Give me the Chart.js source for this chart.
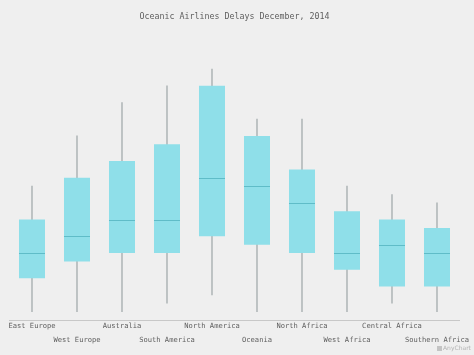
<!DOCTYPE html>
<html><head><meta charset="utf-8">
<script src="https://cdn.jsdelivr.net/npm/chart.js@4"></script>
<style>
html,body{margin:0;padding:0;background:#efefef;}
#wrap{position:relative;width:474px;height:355px;overflow:hidden;}
canvas{display:block;}
#credit{position:absolute;left:437px;top:344px;font:6px "DejaVu Sans",sans-serif;color:#b3b3b3;white-space:nowrap;}
#credit span.logo{display:inline-block;width:5px;height:5px;background:#c4c4c4;margin-right:1px;vertical-align:-0.5px;}
</style>
</head><body>
<div id="wrap"><canvas id="c" width="474" height="355"></canvas><div id="credit"><span class="logo"></span>AnyChart</div></div>
<script>
const categories = ["East Europe","West Europe","Australia","South America","North America","Oceania","North Africa","West Africa","Central Africa","Southern Africa"];
const lowValues    = [1, 1, 1, 2, 3, 1, 1, 1, 2, 1];
const q1Values     = [5, 7, 8, 8, 10, 9, 8, 6, 4, 4];
const medianValues = [8, 10, 12, 12, 17, 16, 14, 8, 9, 8];
const q3Values     = [12, 17, 19, 21, 28, 22, 18, 13, 12, 11];
const highValues   = [16, 22, 26, 28, 30, 24, 24, 16, 15, 14];

const boxData = categories.map((c, i) => [q1Values[i], q3Values[i]]);
const whiskerData = categories.map((c, i) => [lowValues[i], highValues[i]]);

const medianPlugin = {
  id: 'medianLines',
  afterDatasetsDraw(chart) {
    const meta = chart.getDatasetMeta(0);
    const ys = chart.scales.y;
    const ctx = chart.ctx;
    ctx.save();
    ctx.strokeStyle = '#5fbcc8';
    ctx.lineWidth = 1;
    meta.data.forEach((el, i) => {
      const py = Math.round(ys.getPixelForValue(medianValues[i])) + 0.5;
      ctx.beginPath();
      ctx.moveTo(el.x - el.width / 2, py);
      ctx.lineTo(el.x + el.width / 2, py);
      ctx.stroke();
    });
    ctx.restore();
  }
};

new Chart(document.getElementById('c'), {
  type: 'bar',
  data: {
    labels: categories,
    datasets: [
      { label: 'box', data: boxData, backgroundColor: '#8fdfe9', borderWidth: 0,
        barPercentage: 0.578, categoryPercentage: 1, grouped: false, order: 1 },
      { label: 'whisker', data: whiskerData, backgroundColor: '#b3b9ba', borderWidth: 0,
        barThickness: 1, categoryPercentage: 1, grouped: false, order: 2 }
    ]
  },
  options: {
    responsive: false,
    devicePixelRatio: 1,
    animation: false,
    layout: { padding: { left: 9.5, right: 14.5, top: 0, bottom: 9 } },
    plugins: {
      legend: { display: false },
      tooltip: { enabled: false },
      title: {
        display: true,
        text: 'Oceanic Airlines Delays December, 2014',
        color: '#5e5e5e',
        font: { family: 'DejaVu Sans Mono', size: 8.3, weight: 'normal', lineHeight: 1.2 },
        padding: { top: 12, bottom: 30.3 }
      }
    },
    scales: {
      x: {
        grid: { display: false, drawTicks: false },
        border: { display: true, color: '#c8c8c8', width: 1 },
        ticks: {
          autoSkip: false, maxRotation: 0, minRotation: 0, padding: -1,
          color: '#5e5e5e',
          font: { family: 'DejaVu Sans Mono', size: 7.1, lineHeight: '14px' },
          callback: (v, i) => (i % 2 === 0 ? categories[i] : ['', categories[i]])
        }
      },
      y: { display: false, min: 0, max: 32 }
    }
  },
  plugins: [medianPlugin]
});
</script>
</body></html>
